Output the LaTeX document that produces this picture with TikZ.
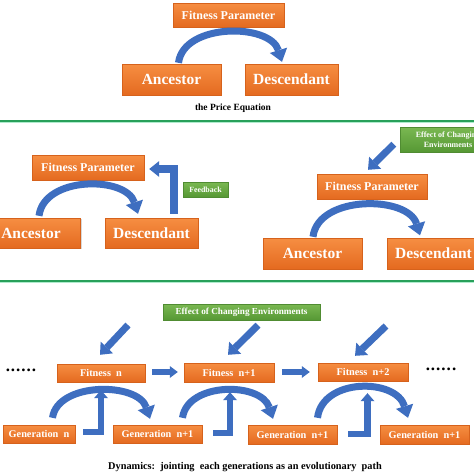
\documentclass[tikz,border=0pt]{standalone}
\usepackage{fontspec}
\setmainfont{Liberation Serif}
\usetikzlibrary{arrows.meta,calc,shadows}
\definecolor{orT}{RGB}{246,142,66}
\definecolor{orB}{RGB}{228,106,32}
\definecolor{orD}{RGB}{214,98,28}
\definecolor{grT}{RGB}{122,184,82}
\definecolor{grB}{RGB}{86,152,52}
\definecolor{grD}{RGB}{80,140,50}
\definecolor{arB}{RGB}{62,110,192}
\definecolor{sepG}{RGB}{40,160,90}
\definecolor{sepL}{RGB}{175,235,205}
\tikzset{
  obox/.style={draw=orD, line width=0.4pt, top color=orT, bottom color=orB, text=white,
    inner sep=0pt, drop shadow={shadow xshift=1pt,shadow yshift=-1.2pt,opacity=.3}},
  gbox/.style={draw=grD, line width=0.4pt, top color=grT, bottom color=grB, text=white,
    inner sep=0pt, drop shadow={shadow xshift=1pt,shadow yshift=-1.2pt,opacity=.3}},
  fbig/.style={font=\bfseries\fontsize{15.5}{18}\selectfont},
  fmid/.style={font=\bfseries\fontsize{12}{14}\selectfont},
  fsml/.style={font=\bfseries\fontsize{10.3}{12}\selectfont},
  curv/.style={draw=arB, line width=7pt, -{Triangle[length=12pt,width=18pt,line width=0pt]}},
  sarr/.style={draw=arB, line width=7pt, -{Triangle[length=10pt,width=17pt,line width=0pt]}},
  harr/.style={draw=arB, line width=5.5pt, -{Triangle[length=8pt,width=12pt,line width=0pt]}},
  barr/.style={draw=arB, line width=6.5pt, line join=miter, -{Triangle[length=8pt,width=14pt,line width=0pt]}},
  fbarr/.style={draw=arB, line width=8pt, line join=miter, -{Triangle[length=10pt,width=16pt,line width=0pt]}},
  captxt/.style={text=black, inner sep=0pt},
  dotstxt/.style={text=black, inner sep=0pt, font=\bfseries\fontsize{17}{17}\selectfont},
}
\begin{document}
\begin{tikzpicture}[x=1pt,y=-1pt]
\useasboundingbox (0,0) rectangle (474,474);
\clip (0,0) rectangle (474,474);
\fill[white] (0,0) rectangle (474,474);
% separators
\foreach \yy in {121,281} {
  \draw[sepL,line width=3pt] (0,\yy) -- (474,\yy);
  \draw[sepG,line width=1.3pt] (0,\yy) -- (474,\yy);
}
% ---------- panel 1
\node[obox, fmid, minimum width=111pt, minimum height=24pt] (fp1) at (228.5,15) {Fitness Parameter};
\node[obox, fbig, minimum width=99pt, minimum height=31pt] (anc1) at (171.5,79.5) {Ancestor};
\node[obox, fbig, minimum width=93pt, minimum height=31pt] (des1) at (291.5,79.5) {Descendant};
\node[captxt, font=\bfseries\fontsize{9.5}{11}\selectfont] (cap1) at (233,108) {the Price Equation};
\draw[curv] ($(anc1.north)+(7,-1)$) .. controls +(5,-40) and +(-12,-39) .. ($(des1.north)+(-9.5,-2)$);
% ---------- panel 2 left
\node[obox, fmid, minimum width=112pt, minimum height=25pt] (fp2) at (88,167.5) {Fitness Parameter};
\node[obox, fbig, minimum width=99pt, minimum height=30pt] (anc2) at (31,233) {Ancestor};
\node[obox, fbig, minimum width=93pt, minimum height=30pt] (des2) at (151.5,233) {Descendant};
\node[gbox, font=\bfseries\fontsize{7.9}{9}\selectfont, minimum width=45pt, minimum height=15pt] (fb) at (205.5,189.5) {Feedback};
\draw[curv] ($(anc2.north)+(8,-2)$) .. controls +(5,-40) and +(-12,-38) .. ($(des2.north)+(-13.5,-4)$);
\draw[fbarr] ($(des2.north)+(22.5,-4)$) |- ($(fp2.east)+(5,1.5)$);
% ---------- panel 2 right
\node[gbox, align=center, font=\bfseries\fontsize{8}{10}\selectfont, minimum width=96pt, minimum height=25pt] (eff2) at (448,139.5) {Effect of Changing\\Environments};
\node[obox, fmid, minimum width=110pt, minimum height=25pt] (fp3) at (372,186.5) {Fitness Parameter};
\node[obox, fbig, minimum width=99pt, minimum height=31pt] (anc3) at (312.5,253.5) {Ancestor};
\node[obox, fbig, minimum width=93pt, minimum height=31pt] (des3) at (433.5,253.5) {Descendant};
\draw[sarr] ($(eff2.south west)+(-6,-8)$) -- ($(fp3.north)+(-4,-4)$);
\draw[curv] ($(anc3.north)+(0.5,-1)$) .. controls +(5,-42) and +(-12,-40) .. ($(des3.north)+(-13.5,-2.5)$);
% ---------- panel 3
\node[gbox, font=\bfseries\fontsize{9.2}{11}\selectfont, minimum width=157pt, minimum height=16pt] (eff3) at (241.5,312) {Effect of Changing Environments};
\node[dotstxt] (dl) at (21,370) {.\kern1pt.\kern1pt.\kern1pt.\kern1pt.\kern1pt.};
\node[dotstxt] (dr) at (441,369) {.\kern1pt.\kern1pt.\kern1pt.\kern1pt.\kern1pt.};
\node[obox, fsml, minimum width=88pt, minimum height=18pt] (fn) at (101,373) {Fitness\ \ n};
\node[obox, fsml, minimum width=90pt, minimum height=19pt] (fn1) at (229,372.5) {Fitness\ \ n+1};
\node[obox, fsml, minimum width=90pt, minimum height=18pt] (fn2) at (363,372) {Fitness\ \ n+2};
\node[obox, fsml, minimum width=72pt, minimum height=18pt] (gn) at (39,434) {Generation\ \ n};
\node[obox, fsml, minimum width=89pt, minimum height=18pt] (g1) at (157.5,434) {Generation\ \ n+1};
\node[obox, fsml, minimum width=89pt, minimum height=19pt] (g2) at (292.5,434.5) {Generation\ \ n+1};
\node[obox, fsml, minimum width=89pt, minimum height=19pt] (g3) at (424.5,434.5) {Generation\ \ n+1};
\node[captxt, font=\bfseries\fontsize{10.3}{12}\selectfont] (cap3) at (245,467) {Dynamics:\ \ jointing\ \ each generations as an evolutionary\ \ path};
\coordinate (d1s) at (128,325);
\coordinate (d3s) at (386,326);
\draw[sarr] (d1s) -- ($(fn.north)+(-1,-9)$);
\draw[sarr] ($(eff3.south)+(16.5,5)$) -- ($(fn1.north)+(-1,-8)$);
\draw[sarr] (d3s) -- ($(fn2.north)+(-8,-7)$);
\draw[harr] ($(fn.east)+(7,-1)$) -- ($(fn1.west)+(-6,-0.5)$);
\draw[harr] ($(fn1.east)+(8,-0.5)$) -- ($(fn2.west)+(-8,0)$);
\draw[curv] ($(gn.north)+(13.5,-7)$) .. controls +(5,-36) and +(-12,-37) .. ($(g1.north)+(-7.5,-6)$);
\draw[curv] ($(g1.north)+(25,-7)$) .. controls +(5,-36) and +(-12,-37) .. ($(g2.north)+(-19.5,-6)$);
\draw[curv] ($(g2.north)+(25,-7)$) .. controls +(5,-40) and +(-12,-40) .. ($(g3.north)+(-16.5,-7)$);
\draw[barr] ($(gn.east)+(8,-2)$) -| ($(fn.south)+(0,8)$);
\draw[barr] ($(g1.east)+(11,-1)$) -| ($(fn1.south)+(1,10)$);
\draw[barr] ($(g2.east)+(11,-0.5)$) -| ($(fn2.south)+(4.5,12)$);
\end{tikzpicture}
\end{document}
